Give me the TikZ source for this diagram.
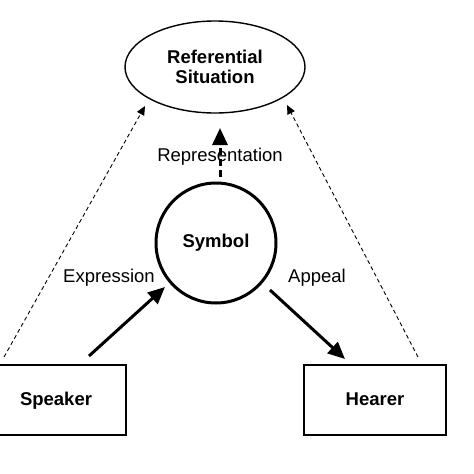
\documentclass[tikz,border=0pt]{standalone}
\usepackage{fontspec}
\setmainfont{Liberation Sans}
\usetikzlibrary{arrows.meta,shapes.geometric}
\begin{document}
\begin{tikzpicture}[x=1pt,y=-1pt,
  lbl/.style={font=\fontsize{18.5}{21}\selectfont, inner sep=0pt},
  blbl/.style={font=\fontsize{18.5}{20}\selectfont\bfseries, inner sep=0pt},
  boxnode/.style={draw, line width=1.4pt, minimum width=140pt, minimum height=70pt, blbl, text height=13pt, text depth=3pt},
  thinarrow/.style={line width=0.9pt, dash pattern=on 4pt off 3pt, -{Triangle[length=9pt,width=8pt]}},
  thickarrow/.style={line width=3pt, -{Triangle[length=17pt,width=15pt]}}
]
\useasboundingbox (0,0) rectangle (474,474);
\node[draw, ellipse, line width=1.4pt, minimum width=180pt, minimum height=92pt, inner sep=0pt, blbl, align=center] (ref) at (215,67) {Referential\\Situation};
\node[draw, circle, line width=3pt, minimum size=120pt, inner sep=0pt, blbl] (sym) at (216,243) {Symbol};
\node[boxnode] (sp) at (56,400) {Speaker};
\node[boxnode, minimum width=142pt] (he) at (375,400) {Hearer};

\coordinate (spA) at (4,357);
\coordinate (refL) at (145,106);
\coordinate (heA) at (418,357);
\coordinate (refR) at (287,105);
\coordinate (symT) at (220,177);
\coordinate (refB) at (220,128);
\coordinate (spE) at (89,356);
\coordinate (symL) at (165,287);
\coordinate (symR) at (270,290);
\coordinate (heT) at (345,359);

\draw[thinarrow] (spA) -- (refL);
\draw[thinarrow] (heA) -- (refR);
\draw[line width=3pt, dash pattern=on 7pt off 4pt, -{Triangle[length=17pt,width=15pt]}] (symT) -- (refB);
\draw[thickarrow] (spE) -- (symL);
\draw[thickarrow] (symR) -- (heT);

\node[lbl] (rep) at (220,157) {Representation};
\node[lbl] (expr) at (109,278) {Expression};
\node[lbl] (app) at (317,278) {Appeal};
\end{tikzpicture}
\end{document}
